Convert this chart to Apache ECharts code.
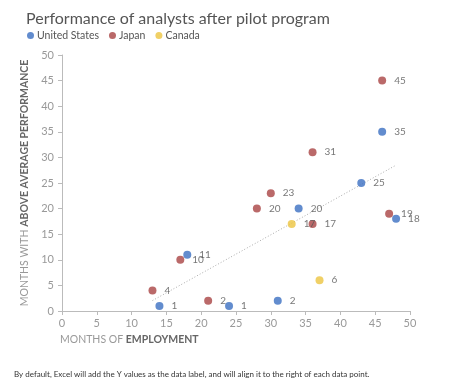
<!DOCTYPE html>
<html><head><meta charset="utf-8">
<script src="https://cdn.jsdelivr.net/npm/echarts@6/dist/echarts.min.js"></script>
<style>html,body{margin:0;padding:0;background:#fff}#c{width:474px;height:384px}</style>
</head><body><div id="c"></div>
<script>
const usX = [14, 18, 24, 31, 34, 43, 46, 48];
const usY = [1, 11, 1, 2, 20, 25, 35, 18];
const jpX = [13, 17, 21, 28, 30, 36, 36, 46, 47];
const jpY = [4, 10, 2, 20, 23, 31, 17, 45, 19];
const caX = [33, 37];
const caY = [17, 6];
const xTicks = [0, 5, 10, 15, 20, 25, 30, 35, 40, 45, 50];
const yTicks = [0, 5, 10, 15, 20, 25, 30, 35, 40, 45, 50];

const pairs = (xs, ys) => xs.map((x, i) => [x, ys[i]]);
const allX = usX.concat(jpX, caX), allY = usY.concat(jpY, caY);
const n = allX.length;
const mx = allX.reduce((a, b) => a + b, 0) / n, my = allY.reduce((a, b) => a + b, 0) / n;
let sxy = 0, sxx = 0;
for (let i = 0; i < n; i++) { sxy += (allX[i] - mx) * (allY[i] - my); sxx += (allX[i] - mx) ** 2; }
const slope = sxy / sxx, icpt = my - slope * mx;
const x0 = Math.min(...allX), x1 = Math.max(...allX);
const trend = [[x0, icpt + slope * x0], [x1, icpt + slope * x1]];

const font = 'Lato, "Open Sans", sans-serif';
const lbl = { show: true, position: 'right', distance: 8, color: '#555', fontSize: 10, fontFamily: font, formatter: p => p.value[1] };
const mk = (name, color, data) => ({
  name, type: 'scatter', data, symbolSize: 8, itemStyle: { color }, label: lbl, z: 3
});

const chart = echarts.init(document.getElementById('c'));
chart.setOption({
  animation: false,
  title: { text: 'Performance of analysts after pilot program', left: 21, top: 6,
    textStyle: { fontFamily: font, fontSize: 16, fontWeight: 'normal', color: '#555' } },
  legend: { left: 22, top: 25, icon: 'circle', itemWidth: 7, itemHeight: 7, itemGap: 10,
    textStyle: { fontFamily: font, fontSize: 10.5, color: '#555', padding: [0, 0, 0, -2] },
    data: ['United States', 'Japan', 'Canada'] },
  grid: { left: 62, right: 64, top: 55, bottom: 73 },
  xAxis: { type: 'value', min: 0, max: 50, interval: 5,
    axisLine: { lineStyle: { color: '#bbb' } }, axisTick: { show: true, length: 4, lineStyle: { color: '#bbb' } },
    splitLine: { show: false },
    axisLabel: { color: '#999', fontSize: 11, fontFamily: font, margin: 7, formatter: v => xTicks.includes(v) ? String(v) : '' } },
  yAxis: { type: 'value', min: 0, max: 50, interval: 5,
    axisLine: { show: true, lineStyle: { color: '#bbb' } }, axisTick: { show: true, length: 4, lineStyle: { color: '#bbb' } },
    splitLine: { show: false },
    axisLabel: { color: '#999', fontSize: 11, fontFamily: font, margin: 8, formatter: v => yTicks.includes(v) ? String(v) : '' },
    name: '{a|MONTHS WITH }{b|ABOVE AVERAGE PERFORMANCE}', nameLocation: 'middle', nameGap: 30, nameRotate: 90,
    nameTextStyle: { rich: { a: { fontFamily: font, fontSize: 10.5, color: '#999' }, b: { fontFamily: font, fontSize: 10.5, color: '#666', fontWeight: 'bold' } } } },
  graphic: [
    { type: 'text', left: 60, top: 334, style: { rich: { a: { fontFamily: font, fontSize: 10.5, fill: '#999' }, b: { fontFamily: font, fontSize: 10.5, fill: '#666', fontWeight: 'bold' } }, text: '{a|MONTHS OF }{b|EMPLOYMENT}' } },
    { type: 'text', left: 14, top: 370, style: { text: 'By default, Excel will add the Y values as the data label, and will align it to the right of each data point.', fontFamily: font, fontSize: 8, fill: '#333' } }
  ],
  series: [
    mk('United States', '#3b6fc2', pairs(usX, usY)),
    mk('Japan', '#a94444', pairs(jpX, jpY)),
    mk('Canada', '#ecc440', pairs(caX, caY)),
    { type: 'line', data: trend, symbol: 'none', silent: true, z: 1,
      lineStyle: { color: '#aaa', width: 1, type: [1, 2] } }
  ]
});
</script></body></html>
